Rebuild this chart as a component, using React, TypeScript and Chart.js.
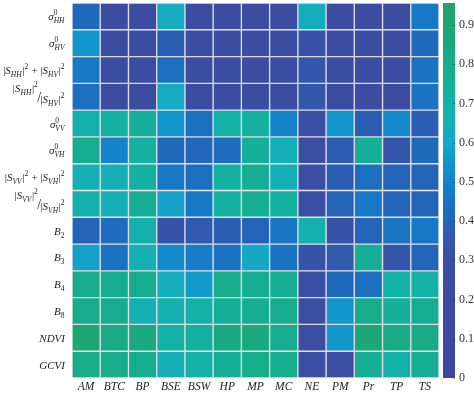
import React, { useEffect, useRef } from 'react';
import { Chart, registerables } from 'chart.js';

Chart.register(...registerables);

// ---------- data ----------
const columns = ['AM', 'BTC', 'BP', 'BSE', 'BSW', 'HP', 'MP', 'MC', 'NE', 'PM', 'Pr', 'TP', 'TS'];

const sigmaHH = [0.42, 0.22, 0.22, 0.62, 0.22, 0.22, 0.22, 0.22, 0.63, 0.22, 0.22, 0.22, 0.47];
const sigmaHV = [0.55, 0.22, 0.22, 0.38, 0.22, 0.22, 0.22, 0.22, 0.32, 0.22, 0.22, 0.22, 0.42];
const sumHH = [0.47, 0.22, 0.22, 0.44, 0.22, 0.22, 0.22, 0.22, 0.35, 0.22, 0.22, 0.22, 0.45];
const ratioHH = [0.44, 0.22, 0.22, 0.62, 0.22, 0.22, 0.22, 0.22, 0.35, 0.22, 0.22, 0.22, 0.45];
const sigmaVV = [0.68, 0.72, 0.74, 0.55, 0.44, 0.70, 0.72, 0.50, 0.28, 0.55, 0.38, 0.52, 0.38];
const sigmaVH = [0.78, 0.50, 0.72, 0.42, 0.41, 0.43, 0.75, 0.65, 0.28, 0.37, 0.75, 0.35, 0.42];
const sumVV = [0.66, 0.65, 0.72, 0.47, 0.44, 0.72, 0.76, 0.65, 0.28, 0.38, 0.44, 0.40, 0.40];
const ratioVV = [0.68, 0.64, 0.76, 0.58, 0.47, 0.72, 0.76, 0.72, 0.30, 0.40, 0.47, 0.40, 0.40];
const band2 = [0.40, 0.43, 0.68, 0.33, 0.36, 0.38, 0.40, 0.46, 0.68, 0.33, 0.40, 0.46, 0.47];
const band3 = [0.58, 0.45, 0.66, 0.52, 0.48, 0.45, 0.60, 0.45, 0.33, 0.36, 0.75, 0.35, 0.40];
const band4 = [0.80, 0.78, 0.78, 0.63, 0.56, 0.80, 0.76, 0.76, 0.30, 0.42, 0.44, 0.70, 0.70];
const band8 = [0.80, 0.78, 0.66, 0.67, 0.70, 0.75, 0.76, 0.78, 0.30, 0.55, 0.80, 0.74, 0.76];
const ndvi = [0.90, 0.82, 0.84, 0.70, 0.72, 0.83, 0.85, 0.78, 0.30, 0.55, 0.88, 0.82, 0.82];
const gcvi = [0.80, 0.80, 0.78, 0.64, 0.70, 0.75, 0.80, 0.78, 0.30, 0.28, 0.76, 0.68, 0.76];

// top to bottom
const rowValues = [sigmaHH, sigmaHV, sumHH, ratioHH, sigmaVV, sigmaVH, sumVV, ratioVV, band2, band3, band4, band8, ndvi, gcvi];
const rowNames = ['σ0HH', 'σ0HV', '|SHH|2 + |SHV|2', '|SHH|2/|SHV|2', 'σ0VV', 'σ0VH', '|SVV|2 + |SVH|2', '|SVV|2/|SVH|2', 'B2', 'B3', 'B4', 'B8', 'NDVI', 'GCVI'];

const colorbarTicks = [0, 0.1, 0.2, 0.3, 0.4, 0.5, 0.6, 0.7, 0.8, 0.9];
const colorMin = 0;
const colorMax = 0.956;

const cmapValues = [0, 0.3, 0.35, 0.4, 0.45, 0.5, 0.55, 0.6, 0.65, 0.7, 0.75, 0.8, 0.85, 0.9, 0.956];
const cmapColors = ['#3d479c', '#3c4ea3', '#3456ab', '#2464b8', '#1a72c1', '#1384ca', '#1396cc', '#16a7c6', '#15b0b6', '#14b2a6', '#15af97', '#17ac8a', '#19a97d', '#1ca772', '#20a468'];

// ---------- helpers ----------
function hexToRgb(h: string) {
  const n = parseInt(h.slice(1), 16);
  return [(n >> 16) & 255, (n >> 8) & 255, n & 255];
}
function colorFor(v: number) {
  if (v <= cmapValues[0]) return cmapColors[0];
  for (let i = 1; i < cmapValues.length; i++) {
    if (v <= cmapValues[i]) {
      const t = (v - cmapValues[i - 1]) / (cmapValues[i] - cmapValues[i - 1]);
      const a = hexToRgb(cmapColors[i - 1]);
      const b = hexToRgb(cmapColors[i]);
      const c = a.map((x, k) => Math.round(x + (b[k] - x) * t));
      return `rgb(${c[0]},${c[1]},${c[2]})`;
    }
  }
  return cmapColors[cmapColors.length - 1];
}

type Tok = { t?: string; r?: boolean; sub?: string; sup?: string };
type Label = { toks: Tok[] } | { num: Tok[]; den: Tok[] };

const I = (t: string): Tok => ({ t });
const R = (t: string): Tok => ({ t, r: true });
const SS = (sup?: string, sub?: string): Tok => ({ sup, sub });
const sigmaLab = (p: string): Label => ({ toks: [I('σ'), SS('0', p)] });
const term = (p: string): Tok[] => [R('|'), I('S'), SS(undefined, p), R('|'), SS('2')];
const sumLab = (a: string, b: string): Label => ({ toks: [...term(a), R(' + '), ...term(b)] });
const fracLab = (a: string, b: string): Label => ({ num: term(a), den: term(b) });

const rowLabels: Label[] = [
  sigmaLab('HH'), sigmaLab('HV'), sumLab('HH', 'HV'), fracLab('HH', 'HV'),
  sigmaLab('VV'), sigmaLab('VH'), sumLab('VV', 'VH'), fracLab('VV', 'VH'),
  { toks: [I('B'), SS(undefined, '2')] },
  { toks: [I('B'), SS(undefined, '3')] },
  { toks: [I('B'), SS(undefined, '4')] },
  { toks: [I('B'), SS(undefined, '8')] },
  { toks: [I('NDVI')] },
  { toks: [I('GCVI')] },
];

const FAM = "'Liberation Serif', 'Times New Roman', serif";
const MAIN = 11;
const SCRIPT = 7.5;
const fontOf = (size: number, roman?: boolean) => `${roman ? '' : 'italic '}${size}px ${FAM}`;

function tokWidth(ctx: CanvasRenderingContext2D, tok: Tok) {
  if (tok.t !== undefined) {
    ctx.font = fontOf(MAIN, tok.r);
    return ctx.measureText(tok.t).width;
  }
  let w = 0;
  if (tok.sub) { ctx.font = fontOf(SCRIPT, /^\d+$/.test(tok.sub)); w = Math.max(w, ctx.measureText(tok.sub).width); }
  if (tok.sup) { ctx.font = fontOf(SCRIPT, true); w = Math.max(w, ctx.measureText(tok.sup).width); }
  return w + 0.5;
}
function toksWidth(ctx: CanvasRenderingContext2D, toks: Tok[]) {
  return toks.reduce((s, t) => s + tokWidth(ctx, t), 0);
}
function drawToks(ctx: CanvasRenderingContext2D, toks: Tok[], x: number, base: number) {
  for (const tok of toks) {
    if (tok.t !== undefined) {
      ctx.font = fontOf(MAIN, tok.r);
      ctx.fillText(tok.t, x, base);
    } else {
      if (tok.sub) { ctx.font = fontOf(SCRIPT, /^\d+$/.test(tok.sub)); ctx.fillText(tok.sub, x, base + 3); }
      if (tok.sup) { ctx.font = fontOf(SCRIPT, true); ctx.fillText(tok.sup, x, base - 5); }
    }
    x += tokWidth(ctx, tok);
  }
}

const richPlugin = {
  id: 'richLabelsAndColorbar',
  afterDraw(chart: any) {
    const ctx: CanvasRenderingContext2D = chart.ctx;
    const y = chart.scales.y;
    const cb = chart.scales.cb;
    const area = chart.chartArea;
    ctx.save();
    ctx.fillStyle = '#222';
    ctx.textAlign = 'left';
    ctx.textBaseline = 'alphabetic';
    const right = area.left - 7;
    rowLabels.forEach((lab, i) => {
      const cy = y.getPixelForValue(rowLabels.length - i - 0.5);
      if ('num' in lab) {
        const nw = toksWidth(ctx, lab.num);
        const dw = toksWidth(ctx, lab.den);
        const sw = 4;
        const x = right - (nw + sw + dw - 2);
        drawToks(ctx, lab.num, x, cy - 5);
        ctx.font = `14px ${FAM}`;
        ctx.fillText('/', x + nw - 1, cy + 5);
        drawToks(ctx, lab.den, x + nw + sw - 2, cy + 6.5);
      } else {
        const w = toksWidth(ctx, lab.toks);
        drawToks(ctx, lab.toks, right - w, cy + 4);
      }
    });
    // colorbar
    const x0 = area.right + 4;
    const x1 = x0 + 12;
    const yTop = cb.getPixelForValue(colorMax);
    const yBot = cb.getPixelForValue(colorMin);
    const grad = ctx.createLinearGradient(0, yBot, 0, yTop);
    cmapValues.forEach((v, k) => grad.addColorStop(Math.min(1, (v - colorMin) / (colorMax - colorMin)), cmapColors[k]));
    ctx.fillStyle = grad;
    ctx.fillRect(x0, yTop, x1 - x0, yBot - yTop);
    ctx.strokeStyle = 'rgba(0,0,0,0.3)';
    ctx.lineWidth = 1;
    colorbarTicks.forEach((v) => {
      const py = Math.round(cb.getPixelForValue(v)) + 0.5;
      ctx.beginPath();
      ctx.moveTo(x1 - 2, py);
      ctx.lineTo(x1, py);
      ctx.stroke();
    });
    ctx.restore();
  },
};

export default function App() {
  const ref = useRef<HTMLCanvasElement>(null);
  useEffect(() => {
    if (!ref.current) return;
    const datasets = rowValues
      .map((vals, i) => ({
        label: rowNames[i],
        data: columns.map(() => 1),
        backgroundColor: vals.map(colorFor),
        borderColor: 'rgba(20,20,70,0.10)',
        borderWidth: 1,
        borderSkipped: false,
        categoryPercentage: 1,
        barPercentage: 1,
        stack: 's',
      }))
      .reverse();
    const chart = new Chart(ref.current, {
      type: 'bar',
      data: { labels: columns, datasets },
      plugins: [richPlugin],
      options: {
        animation: false,
        responsive: true,
        maintainAspectRatio: false,
        events: [],
        layout: { padding: { left: 72, top: 3, right: 0, bottom: 0 } },
        plugins: { legend: { display: false }, tooltip: { enabled: false } },
        scales: {
          x: {
            stacked: true,
            grid: { display: false, drawTicks: false },
            border: { display: false },
            ticks: {
              font: { family: FAM, size: 11.5, style: 'italic' },
              color: '#222',
              padding: 2,
              maxRotation: 0,
              autoSkip: false,
            },
            afterFit: (s: any) => { s.height = 17; },
          },
          y: { stacked: true, display: false, min: 0, max: rowValues.length },
          cb: {
            type: 'linear',
            position: 'right',
            min: colorMin,
            max: colorMax,
            grid: { display: false, drawTicks: false },
            border: { display: false },
            afterBuildTicks: (s: any) => { s.ticks = colorbarTicks.map((v) => ({ value: v })); },
            ticks: {
              padding: 20,
              font: { family: FAM, size: 12 },
              color: '#333',
              callback: (v: any) => String(Math.round(Number(v) * 10) / 10),
            },
            afterFit: (s: any) => { s.width = 35; s.paddingTop = 0; s.paddingBottom = 0; },
          },
        },
      } as any,
    });
    return () => chart.destroy();
  }, []);
  return (
    <div style={{ position: 'fixed', left: 0, top: 0, width: 474, height: 395, background: '#fff' }}>
      <canvas ref={ref} style={{ display: 'block' }} />
    </div>
  );
}
